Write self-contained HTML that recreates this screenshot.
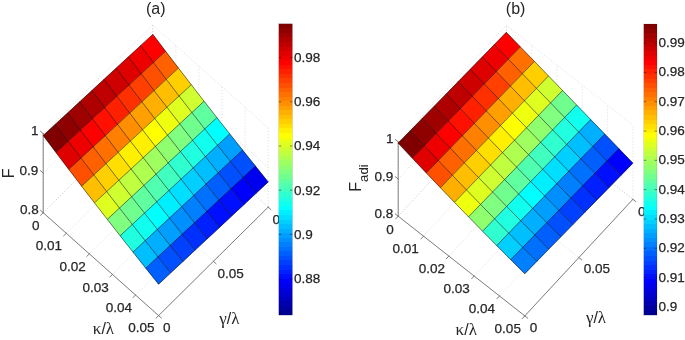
<!DOCTYPE html>
<html><head><meta charset="utf-8"><title>F and F_adi surfaces</title>
<style>html,body{margin:0;padding:0;background:#fff;width:685px;height:340px;overflow:hidden}svg{display:block}</style>
</head><body>
<svg width="685" height="340" viewBox="0 0 685 340">
<rect width="685" height="340" fill="#fff"/>
<g stroke="#cfcfcf" stroke-width="0.8" stroke-dasharray="0.9 2.1" fill="none">
<line x1="43.20" y1="212.70" x2="152.80" y2="104.20"/>
<line x1="152.80" y1="104.20" x2="152.80" y2="25.10"/>
<line x1="66.28" y1="233.28" x2="175.88" y2="124.78"/>
<line x1="175.88" y1="124.78" x2="175.88" y2="45.68"/>
<line x1="89.36" y1="253.86" x2="198.96" y2="145.36"/>
<line x1="198.96" y1="145.36" x2="198.96" y2="66.26"/>
<line x1="112.44" y1="274.44" x2="222.04" y2="165.94"/>
<line x1="222.04" y1="165.94" x2="222.04" y2="86.84"/>
<line x1="135.52" y1="295.02" x2="245.12" y2="186.52"/>
<line x1="245.12" y1="186.52" x2="245.12" y2="107.42"/>
<line x1="158.60" y1="315.60" x2="268.20" y2="207.10"/>
<line x1="268.20" y1="207.10" x2="268.20" y2="128.00"/>
<line x1="43.20" y1="212.70" x2="158.60" y2="315.60"/>
<line x1="43.20" y1="212.70" x2="43.20" y2="133.60"/>
<line x1="98.00" y1="158.45" x2="213.40" y2="261.35"/>
<line x1="98.00" y1="158.45" x2="98.00" y2="79.35"/>
<line x1="152.80" y1="104.20" x2="268.20" y2="207.10"/>
<line x1="152.80" y1="104.20" x2="152.80" y2="25.10"/>
<line x1="43.20" y1="212.70" x2="152.80" y2="104.20"/>
<line x1="152.80" y1="104.20" x2="268.20" y2="207.10"/>
<line x1="43.20" y1="173.15" x2="152.80" y2="64.65"/>
<line x1="152.80" y1="64.65" x2="268.20" y2="167.55"/>
<line x1="43.20" y1="133.60" x2="152.80" y2="25.10"/>
<line x1="152.80" y1="25.10" x2="268.20" y2="128.00"/>
</g>
<g stroke="#707070" stroke-width="0.9" fill="none" stroke-linecap="square">
<line x1="43.20" y1="212.70" x2="158.60" y2="315.60"/>
<line x1="158.60" y1="315.60" x2="268.20" y2="207.10"/>
<line x1="43.20" y1="212.70" x2="43.20" y2="133.60"/>
<line x1="43.20" y1="212.70" x2="40.64" y2="215.23"/>
<line x1="66.28" y1="233.28" x2="63.72" y2="235.81"/>
<line x1="89.36" y1="253.86" x2="86.80" y2="256.39"/>
<line x1="112.44" y1="274.44" x2="109.88" y2="276.97"/>
<line x1="135.52" y1="295.02" x2="132.96" y2="297.55"/>
<line x1="158.60" y1="315.60" x2="156.04" y2="318.13"/>
<line x1="158.60" y1="315.60" x2="161.29" y2="318.00"/>
<line x1="213.40" y1="261.35" x2="216.09" y2="263.75"/>
<line x1="268.20" y1="207.10" x2="270.89" y2="209.50"/>
<line x1="43.20" y1="212.70" x2="40.51" y2="210.30"/>
<line x1="43.20" y1="173.15" x2="40.51" y2="170.75"/>
<line x1="43.20" y1="133.60" x2="40.51" y2="131.20"/>
</g>
<g stroke="none">
<polygon points="140.62,45.63 153.44,62.54 165.62,51.30 152.80,34.39" fill="#ff0000" stroke="#ff0000" stroke-width="0.35"/>
<polygon points="153.44,62.54 166.27,79.34 178.44,68.08 165.62,51.30" fill="#ff6000" stroke="#ff6000" stroke-width="0.35"/>
<polygon points="166.27,79.34 179.09,96.00 191.27,84.73 178.44,68.08" fill="#ffcf00" stroke="#ffcf00" stroke-width="0.35"/>
<polygon points="179.09,96.00 191.91,112.54 204.09,101.25 191.27,84.73" fill="#cfff30" stroke="#cfff30" stroke-width="0.35"/>
<polygon points="191.91,112.54 204.73,128.95 216.91,117.65 204.09,101.25" fill="#60ff9f" stroke="#60ff9f" stroke-width="0.35"/>
<polygon points="204.73,128.95 217.56,145.23 229.73,133.92 216.91,117.65" fill="#00ffff" stroke="#00ffff" stroke-width="0.35"/>
<polygon points="217.56,145.23 230.38,161.39 242.56,150.06 229.73,133.92" fill="#009fff" stroke="#009fff" stroke-width="0.35"/>
<polygon points="230.38,161.39 243.20,177.42 255.38,166.08 242.56,150.06" fill="#0050ff" stroke="#0050ff" stroke-width="0.35"/>
<polygon points="243.20,177.42 256.02,193.32 268.20,181.97 255.38,166.08" fill="#0000ef" stroke="#0000ef" stroke-width="0.35"/>
<polygon points="128.44,56.86 141.27,73.79 153.44,62.54 140.62,45.63" fill="#ef0000" stroke="#ef0000" stroke-width="0.35"/>
<polygon points="141.27,73.79 154.09,90.60 166.27,79.34 153.44,62.54" fill="#ff5000" stroke="#ff5000" stroke-width="0.35"/>
<polygon points="154.09,90.60 166.91,107.27 179.09,96.00 166.27,79.34" fill="#ffbf00" stroke="#ffbf00" stroke-width="0.35"/>
<polygon points="166.91,107.27 179.73,123.83 191.91,112.54 179.09,96.00" fill="#dfff20" stroke="#dfff20" stroke-width="0.35"/>
<polygon points="179.73,123.83 192.56,140.25 204.73,128.95 191.91,112.54" fill="#70ff8f" stroke="#70ff8f" stroke-width="0.35"/>
<polygon points="192.56,140.25 205.38,156.55 217.56,145.23 204.73,128.95" fill="#10ffef" stroke="#10ffef" stroke-width="0.35"/>
<polygon points="205.38,156.55 218.20,172.72 230.38,161.39 217.56,145.23" fill="#00afff" stroke="#00afff" stroke-width="0.35"/>
<polygon points="218.20,172.72 231.02,188.76 243.20,177.42 230.38,161.39" fill="#0050ff" stroke="#0050ff" stroke-width="0.35"/>
<polygon points="231.02,188.76 243.84,204.68 256.02,193.32 243.20,177.42" fill="#0000ff" stroke="#0000ff" stroke-width="0.35"/>
<polygon points="116.27,68.09 129.09,85.04 141.27,73.79 128.44,56.86" fill="#df0000" stroke="#df0000" stroke-width="0.35"/>
<polygon points="129.09,85.04 141.91,101.86 154.09,90.60 141.27,73.79" fill="#ff4000" stroke="#ff4000" stroke-width="0.35"/>
<polygon points="141.91,101.86 154.73,118.55 166.91,107.27 154.09,90.60" fill="#ffaf00" stroke="#ffaf00" stroke-width="0.35"/>
<polygon points="154.73,118.55 167.56,135.11 179.73,123.83 166.91,107.27" fill="#efff10" stroke="#efff10" stroke-width="0.35"/>
<polygon points="167.56,135.11 180.38,151.55 192.56,140.25 179.73,123.83" fill="#80ff80" stroke="#80ff80" stroke-width="0.35"/>
<polygon points="180.38,151.55 193.20,167.86 205.38,156.55 192.56,140.25" fill="#20ffdf" stroke="#20ffdf" stroke-width="0.35"/>
<polygon points="193.20,167.86 206.02,184.05 218.20,172.72 205.38,156.55" fill="#00bfff" stroke="#00bfff" stroke-width="0.35"/>
<polygon points="206.02,184.05 218.84,200.10 231.02,188.76 218.20,172.72" fill="#0060ff" stroke="#0060ff" stroke-width="0.35"/>
<polygon points="218.84,200.10 231.67,216.03 243.84,204.68 231.02,188.76" fill="#0010ff" stroke="#0010ff" stroke-width="0.35"/>
<polygon points="104.09,79.32 116.91,96.28 129.09,85.04 116.27,68.09" fill="#cf0000" stroke="#cf0000" stroke-width="0.35"/>
<polygon points="116.91,96.28 129.73,113.11 141.91,101.86 129.09,85.04" fill="#ff3000" stroke="#ff3000" stroke-width="0.35"/>
<polygon points="129.73,113.11 142.56,129.82 154.73,118.55 141.91,101.86" fill="#ff9f00" stroke="#ff9f00" stroke-width="0.35"/>
<polygon points="142.56,129.82 155.38,146.40 167.56,135.11 154.73,118.55" fill="#ffff00" stroke="#ffff00" stroke-width="0.35"/>
<polygon points="155.38,146.40 168.20,162.85 180.38,151.55 167.56,135.11" fill="#8fff70" stroke="#8fff70" stroke-width="0.35"/>
<polygon points="168.20,162.85 181.02,179.17 193.20,167.86 180.38,151.55" fill="#30ffcf" stroke="#30ffcf" stroke-width="0.35"/>
<polygon points="181.02,179.17 193.84,195.37 206.02,184.05 193.20,167.86" fill="#00cfff" stroke="#00cfff" stroke-width="0.35"/>
<polygon points="193.84,195.37 206.67,211.44 218.84,200.10 206.02,184.05" fill="#0070ff" stroke="#0070ff" stroke-width="0.35"/>
<polygon points="206.67,211.44 219.49,227.39 231.67,216.03 218.84,200.10" fill="#0010ff" stroke="#0010ff" stroke-width="0.35"/>
<polygon points="91.91,90.55 104.73,107.53 116.91,96.28 104.09,79.32" fill="#bf0000" stroke="#bf0000" stroke-width="0.35"/>
<polygon points="104.73,107.53 117.56,124.37 129.73,113.11 116.91,96.28" fill="#ff2000" stroke="#ff2000" stroke-width="0.35"/>
<polygon points="117.56,124.37 130.38,141.09 142.56,129.82 129.73,113.11" fill="#ff8f00" stroke="#ff8f00" stroke-width="0.35"/>
<polygon points="130.38,141.09 143.20,157.68 155.38,146.40 142.56,129.82" fill="#ffef00" stroke="#ffef00" stroke-width="0.35"/>
<polygon points="143.20,157.68 156.02,174.15 168.20,162.85 155.38,146.40" fill="#9fff60" stroke="#9fff60" stroke-width="0.35"/>
<polygon points="156.02,174.15 168.84,190.49 181.02,179.17 168.20,162.85" fill="#40ffbf" stroke="#40ffbf" stroke-width="0.35"/>
<polygon points="168.84,190.49 181.67,206.70 193.84,195.37 181.02,179.17" fill="#00dfff" stroke="#00dfff" stroke-width="0.35"/>
<polygon points="181.67,206.70 194.49,222.78 206.67,211.44 193.84,195.37" fill="#0080ff" stroke="#0080ff" stroke-width="0.35"/>
<polygon points="194.49,222.78 207.31,238.74 219.49,227.39 206.67,211.44" fill="#0020ff" stroke="#0020ff" stroke-width="0.35"/>
<polygon points="79.73,101.79 92.56,118.77 104.73,107.53 91.91,90.55" fill="#af0000" stroke="#af0000" stroke-width="0.35"/>
<polygon points="92.56,118.77 105.38,135.63 117.56,124.37 104.73,107.53" fill="#ff1000" stroke="#ff1000" stroke-width="0.35"/>
<polygon points="105.38,135.63 118.20,152.37 130.38,141.09 117.56,124.37" fill="#ff8000" stroke="#ff8000" stroke-width="0.35"/>
<polygon points="118.20,152.37 131.02,168.97 143.20,157.68 130.38,141.09" fill="#ffef00" stroke="#ffef00" stroke-width="0.35"/>
<polygon points="131.02,168.97 143.84,185.45 156.02,174.15 143.20,157.68" fill="#afff50" stroke="#afff50" stroke-width="0.35"/>
<polygon points="143.84,185.45 156.67,201.80 168.84,190.49 156.02,174.15" fill="#50ffaf" stroke="#50ffaf" stroke-width="0.35"/>
<polygon points="156.67,201.80 169.49,218.03 181.67,206.70 168.84,190.49" fill="#00efff" stroke="#00efff" stroke-width="0.35"/>
<polygon points="169.49,218.03 182.31,234.12 194.49,222.78 181.67,206.70" fill="#008fff" stroke="#008fff" stroke-width="0.35"/>
<polygon points="182.31,234.12 195.13,250.10 207.31,238.74 194.49,222.78" fill="#0030ff" stroke="#0030ff" stroke-width="0.35"/>
<polygon points="67.56,113.02 80.38,130.02 92.56,118.77 79.73,101.79" fill="#9f0000" stroke="#9f0000" stroke-width="0.35"/>
<polygon points="80.38,130.02 93.20,146.89 105.38,135.63 92.56,118.77" fill="#ff0000" stroke="#ff0000" stroke-width="0.35"/>
<polygon points="93.20,146.89 106.02,163.64 118.20,152.37 105.38,135.63" fill="#ff7000" stroke="#ff7000" stroke-width="0.35"/>
<polygon points="106.02,163.64 118.84,180.26 131.02,168.97 118.20,152.37" fill="#ffdf00" stroke="#ffdf00" stroke-width="0.35"/>
<polygon points="118.84,180.26 131.67,196.75 143.84,185.45 131.02,168.97" fill="#bfff40" stroke="#bfff40" stroke-width="0.35"/>
<polygon points="131.67,196.75 144.49,213.11 156.67,201.80 143.84,185.45" fill="#60ff9f" stroke="#60ff9f" stroke-width="0.35"/>
<polygon points="144.49,213.11 157.31,229.35 169.49,218.03 156.67,201.80" fill="#00ffff" stroke="#00ffff" stroke-width="0.35"/>
<polygon points="157.31,229.35 170.13,245.46 182.31,234.12 169.49,218.03" fill="#009fff" stroke="#009fff" stroke-width="0.35"/>
<polygon points="170.13,245.46 182.96,261.45 195.13,250.10 182.31,234.12" fill="#0040ff" stroke="#0040ff" stroke-width="0.35"/>
<polygon points="55.38,124.25 68.20,141.26 80.38,130.02 67.56,113.02" fill="#8f0000" stroke="#8f0000" stroke-width="0.35"/>
<polygon points="68.20,141.26 81.02,158.15 93.20,146.89 80.38,130.02" fill="#ef0000" stroke="#ef0000" stroke-width="0.35"/>
<polygon points="81.02,158.15 93.84,174.91 106.02,163.64 93.20,146.89" fill="#ff6000" stroke="#ff6000" stroke-width="0.35"/>
<polygon points="93.84,174.91 106.67,191.54 118.84,180.26 106.02,163.64" fill="#ffcf00" stroke="#ffcf00" stroke-width="0.35"/>
<polygon points="106.67,191.54 119.49,208.05 131.67,196.75 118.84,180.26" fill="#cfff30" stroke="#cfff30" stroke-width="0.35"/>
<polygon points="119.49,208.05 132.31,224.43 144.49,213.11 131.67,196.75" fill="#70ff8f" stroke="#70ff8f" stroke-width="0.35"/>
<polygon points="132.31,224.43 145.13,240.68 157.31,229.35 144.49,213.11" fill="#10ffef" stroke="#10ffef" stroke-width="0.35"/>
<polygon points="145.13,240.68 157.96,256.81 170.13,245.46 157.31,229.35" fill="#00afff" stroke="#00afff" stroke-width="0.35"/>
<polygon points="157.96,256.81 170.78,272.80 182.96,261.45 170.13,245.46" fill="#0050ff" stroke="#0050ff" stroke-width="0.35"/>
<polygon points="43.20,135.48 56.02,152.51 68.20,141.26 55.38,124.25" fill="#800000" stroke="#800000" stroke-width="0.35"/>
<polygon points="56.02,152.51 68.84,169.41 81.02,158.15 68.20,141.26" fill="#df0000" stroke="#df0000" stroke-width="0.35"/>
<polygon points="68.84,169.41 81.67,186.18 93.84,174.91 81.02,158.15" fill="#ff5000" stroke="#ff5000" stroke-width="0.35"/>
<polygon points="81.67,186.18 94.49,202.83 106.67,191.54 93.84,174.91" fill="#ffbf00" stroke="#ffbf00" stroke-width="0.35"/>
<polygon points="94.49,202.83 107.31,219.35 119.49,208.05 106.67,191.54" fill="#dfff20" stroke="#dfff20" stroke-width="0.35"/>
<polygon points="107.31,219.35 120.13,235.74 132.31,224.43 119.49,208.05" fill="#80ff80" stroke="#80ff80" stroke-width="0.35"/>
<polygon points="120.13,235.74 132.96,252.01 145.13,240.68 132.31,224.43" fill="#20ffdf" stroke="#20ffdf" stroke-width="0.35"/>
<polygon points="132.96,252.01 145.78,268.15 157.96,256.81 145.13,240.68" fill="#00bfff" stroke="#00bfff" stroke-width="0.35"/>
<polygon points="145.78,268.15 158.60,284.16 170.78,272.80 157.96,256.81" fill="#0060ff" stroke="#0060ff" stroke-width="0.35"/>
</g>
<g stroke="#000" stroke-width="0.85" stroke-opacity="0.6" fill="none" stroke-linejoin="round">
<polyline points="43.20,135.48 55.38,124.25 67.56,113.02 79.73,101.79 91.91,90.55 104.09,79.32 116.27,68.09 128.44,56.86 140.62,45.63 152.80,34.39"/>
<polyline points="56.02,152.51 68.20,141.26 80.38,130.02 92.56,118.77 104.73,107.53 116.91,96.28 129.09,85.04 141.27,73.79 153.44,62.54 165.62,51.30"/>
<polyline points="68.84,169.41 81.02,158.15 93.20,146.89 105.38,135.63 117.56,124.37 129.73,113.11 141.91,101.86 154.09,90.60 166.27,79.34 178.44,68.08"/>
<polyline points="81.67,186.18 93.84,174.91 106.02,163.64 118.20,152.37 130.38,141.09 142.56,129.82 154.73,118.55 166.91,107.27 179.09,96.00 191.27,84.73"/>
<polyline points="94.49,202.83 106.67,191.54 118.84,180.26 131.02,168.97 143.20,157.68 155.38,146.40 167.56,135.11 179.73,123.83 191.91,112.54 204.09,101.25"/>
<polyline points="107.31,219.35 119.49,208.05 131.67,196.75 143.84,185.45 156.02,174.15 168.20,162.85 180.38,151.55 192.56,140.25 204.73,128.95 216.91,117.65"/>
<polyline points="120.13,235.74 132.31,224.43 144.49,213.11 156.67,201.80 168.84,190.49 181.02,179.17 193.20,167.86 205.38,156.55 217.56,145.23 229.73,133.92"/>
<polyline points="132.96,252.01 145.13,240.68 157.31,229.35 169.49,218.03 181.67,206.70 193.84,195.37 206.02,184.05 218.20,172.72 230.38,161.39 242.56,150.06"/>
<polyline points="145.78,268.15 157.96,256.81 170.13,245.46 182.31,234.12 194.49,222.78 206.67,211.44 218.84,200.10 231.02,188.76 243.20,177.42 255.38,166.08"/>
<polyline points="158.60,284.16 170.78,272.80 182.96,261.45 195.13,250.10 207.31,238.74 219.49,227.39 231.67,216.03 243.84,204.68 256.02,193.32 268.20,181.97"/>
<polyline points="43.20,135.48 56.02,152.51 68.84,169.41 81.67,186.18 94.49,202.83 107.31,219.35 120.13,235.74 132.96,252.01 145.78,268.15 158.60,284.16"/>
<polyline points="55.38,124.25 68.20,141.26 81.02,158.15 93.84,174.91 106.67,191.54 119.49,208.05 132.31,224.43 145.13,240.68 157.96,256.81 170.78,272.80"/>
<polyline points="67.56,113.02 80.38,130.02 93.20,146.89 106.02,163.64 118.84,180.26 131.67,196.75 144.49,213.11 157.31,229.35 170.13,245.46 182.96,261.45"/>
<polyline points="79.73,101.79 92.56,118.77 105.38,135.63 118.20,152.37 131.02,168.97 143.84,185.45 156.67,201.80 169.49,218.03 182.31,234.12 195.13,250.10"/>
<polyline points="91.91,90.55 104.73,107.53 117.56,124.37 130.38,141.09 143.20,157.68 156.02,174.15 168.84,190.49 181.67,206.70 194.49,222.78 207.31,238.74"/>
<polyline points="104.09,79.32 116.91,96.28 129.73,113.11 142.56,129.82 155.38,146.40 168.20,162.85 181.02,179.17 193.84,195.37 206.67,211.44 219.49,227.39"/>
<polyline points="116.27,68.09 129.09,85.04 141.91,101.86 154.73,118.55 167.56,135.11 180.38,151.55 193.20,167.86 206.02,184.05 218.84,200.10 231.67,216.03"/>
<polyline points="128.44,56.86 141.27,73.79 154.09,90.60 166.91,107.27 179.73,123.83 192.56,140.25 205.38,156.55 218.20,172.72 231.02,188.76 243.84,204.68"/>
<polyline points="140.62,45.63 153.44,62.54 166.27,79.34 179.09,96.00 191.91,112.54 204.73,128.95 217.56,145.23 230.38,161.39 243.20,177.42 256.02,193.32"/>
<polyline points="152.80,34.39 165.62,51.30 178.44,68.08 191.27,84.73 204.09,101.25 216.91,117.65 229.73,133.92 242.56,150.06 255.38,166.08 268.20,181.97"/>
</g>
<g font-family="'Liberation Sans', Arial, sans-serif" font-size="13.5" fill="#262626" stroke="#262626" stroke-width="0.25">
<text x="39.60" y="229.60" text-anchor="end">0</text>
<text x="62.08" y="249.58" text-anchor="end">0.01</text>
<text x="85.76" y="270.76" text-anchor="end">0.02</text>
<text x="108.84" y="292.04" text-anchor="end">0.03</text>
<text x="131.92" y="311.92" text-anchor="end">0.04</text>
<text x="154.50" y="331.90" text-anchor="end">0.05</text>
<text x="162.90" y="332.10">0</text>
<text x="217.50" y="277.85">0.05</text>
<text x="272.40" y="223.60">0.1</text>
<text x="38.90" y="214.20" text-anchor="end">0.8</text>
<text x="38.40" y="175.35" text-anchor="end">0.9</text>
<text x="38.40" y="134.50" text-anchor="end">1</text>
</g>
<defs><linearGradient id="ga" x1="0" y1="0" x2="0" y2="1"><stop offset="0.00000" stop-color="#800000"/><stop offset="0.01562" stop-color="#800000"/><stop offset="0.01562" stop-color="#8f0000"/><stop offset="0.03125" stop-color="#8f0000"/><stop offset="0.03125" stop-color="#9f0000"/><stop offset="0.04688" stop-color="#9f0000"/><stop offset="0.04688" stop-color="#af0000"/><stop offset="0.06250" stop-color="#af0000"/><stop offset="0.06250" stop-color="#bf0000"/><stop offset="0.07812" stop-color="#bf0000"/><stop offset="0.07812" stop-color="#cf0000"/><stop offset="0.09375" stop-color="#cf0000"/><stop offset="0.09375" stop-color="#df0000"/><stop offset="0.10938" stop-color="#df0000"/><stop offset="0.10938" stop-color="#ef0000"/><stop offset="0.12500" stop-color="#ef0000"/><stop offset="0.12500" stop-color="#ff0000"/><stop offset="0.14062" stop-color="#ff0000"/><stop offset="0.14062" stop-color="#ff1000"/><stop offset="0.15625" stop-color="#ff1000"/><stop offset="0.15625" stop-color="#ff2000"/><stop offset="0.17188" stop-color="#ff2000"/><stop offset="0.17188" stop-color="#ff3000"/><stop offset="0.18750" stop-color="#ff3000"/><stop offset="0.18750" stop-color="#ff4000"/><stop offset="0.20312" stop-color="#ff4000"/><stop offset="0.20312" stop-color="#ff5000"/><stop offset="0.21875" stop-color="#ff5000"/><stop offset="0.21875" stop-color="#ff6000"/><stop offset="0.23438" stop-color="#ff6000"/><stop offset="0.23438" stop-color="#ff7000"/><stop offset="0.25000" stop-color="#ff7000"/><stop offset="0.25000" stop-color="#ff8000"/><stop offset="0.26562" stop-color="#ff8000"/><stop offset="0.26562" stop-color="#ff8f00"/><stop offset="0.28125" stop-color="#ff8f00"/><stop offset="0.28125" stop-color="#ff9f00"/><stop offset="0.29688" stop-color="#ff9f00"/><stop offset="0.29688" stop-color="#ffaf00"/><stop offset="0.31250" stop-color="#ffaf00"/><stop offset="0.31250" stop-color="#ffbf00"/><stop offset="0.32812" stop-color="#ffbf00"/><stop offset="0.32812" stop-color="#ffcf00"/><stop offset="0.34375" stop-color="#ffcf00"/><stop offset="0.34375" stop-color="#ffdf00"/><stop offset="0.35938" stop-color="#ffdf00"/><stop offset="0.35938" stop-color="#ffef00"/><stop offset="0.37500" stop-color="#ffef00"/><stop offset="0.37500" stop-color="#ffff00"/><stop offset="0.39062" stop-color="#ffff00"/><stop offset="0.39062" stop-color="#efff10"/><stop offset="0.40625" stop-color="#efff10"/><stop offset="0.40625" stop-color="#dfff20"/><stop offset="0.42188" stop-color="#dfff20"/><stop offset="0.42188" stop-color="#cfff30"/><stop offset="0.43750" stop-color="#cfff30"/><stop offset="0.43750" stop-color="#bfff40"/><stop offset="0.45312" stop-color="#bfff40"/><stop offset="0.45312" stop-color="#afff50"/><stop offset="0.46875" stop-color="#afff50"/><stop offset="0.46875" stop-color="#9fff60"/><stop offset="0.48438" stop-color="#9fff60"/><stop offset="0.48438" stop-color="#8fff70"/><stop offset="0.50000" stop-color="#8fff70"/><stop offset="0.50000" stop-color="#80ff80"/><stop offset="0.51562" stop-color="#80ff80"/><stop offset="0.51562" stop-color="#70ff8f"/><stop offset="0.53125" stop-color="#70ff8f"/><stop offset="0.53125" stop-color="#60ff9f"/><stop offset="0.54688" stop-color="#60ff9f"/><stop offset="0.54688" stop-color="#50ffaf"/><stop offset="0.56250" stop-color="#50ffaf"/><stop offset="0.56250" stop-color="#40ffbf"/><stop offset="0.57812" stop-color="#40ffbf"/><stop offset="0.57812" stop-color="#30ffcf"/><stop offset="0.59375" stop-color="#30ffcf"/><stop offset="0.59375" stop-color="#20ffdf"/><stop offset="0.60938" stop-color="#20ffdf"/><stop offset="0.60938" stop-color="#10ffef"/><stop offset="0.62500" stop-color="#10ffef"/><stop offset="0.62500" stop-color="#00ffff"/><stop offset="0.64062" stop-color="#00ffff"/><stop offset="0.64062" stop-color="#00efff"/><stop offset="0.65625" stop-color="#00efff"/><stop offset="0.65625" stop-color="#00dfff"/><stop offset="0.67188" stop-color="#00dfff"/><stop offset="0.67188" stop-color="#00cfff"/><stop offset="0.68750" stop-color="#00cfff"/><stop offset="0.68750" stop-color="#00bfff"/><stop offset="0.70312" stop-color="#00bfff"/><stop offset="0.70312" stop-color="#00afff"/><stop offset="0.71875" stop-color="#00afff"/><stop offset="0.71875" stop-color="#009fff"/><stop offset="0.73438" stop-color="#009fff"/><stop offset="0.73438" stop-color="#008fff"/><stop offset="0.75000" stop-color="#008fff"/><stop offset="0.75000" stop-color="#0080ff"/><stop offset="0.76562" stop-color="#0080ff"/><stop offset="0.76562" stop-color="#0070ff"/><stop offset="0.78125" stop-color="#0070ff"/><stop offset="0.78125" stop-color="#0060ff"/><stop offset="0.79688" stop-color="#0060ff"/><stop offset="0.79688" stop-color="#0050ff"/><stop offset="0.81250" stop-color="#0050ff"/><stop offset="0.81250" stop-color="#0040ff"/><stop offset="0.82812" stop-color="#0040ff"/><stop offset="0.82812" stop-color="#0030ff"/><stop offset="0.84375" stop-color="#0030ff"/><stop offset="0.84375" stop-color="#0020ff"/><stop offset="0.85938" stop-color="#0020ff"/><stop offset="0.85938" stop-color="#0010ff"/><stop offset="0.87500" stop-color="#0010ff"/><stop offset="0.87500" stop-color="#0000ff"/><stop offset="0.89062" stop-color="#0000ff"/><stop offset="0.89062" stop-color="#0000ef"/><stop offset="0.90625" stop-color="#0000ef"/><stop offset="0.90625" stop-color="#0000df"/><stop offset="0.92188" stop-color="#0000df"/><stop offset="0.92188" stop-color="#0000cf"/><stop offset="0.93750" stop-color="#0000cf"/><stop offset="0.93750" stop-color="#0000bf"/><stop offset="0.95312" stop-color="#0000bf"/><stop offset="0.95312" stop-color="#0000af"/><stop offset="0.96875" stop-color="#0000af"/><stop offset="0.96875" stop-color="#00009f"/><stop offset="0.98438" stop-color="#00009f"/><stop offset="0.98438" stop-color="#00008f"/><stop offset="1.00000" stop-color="#00008f"/></linearGradient></defs>
<rect x="278.80" y="23.80" width="13.60" height="291.30" fill="url(#ga)"/>
<rect x="278.80" y="23.80" width="13.60" height="291.30" fill="none" stroke="#000" stroke-width="0.4" stroke-opacity="0.25"/>
<g font-family="'Liberation Sans', Arial, sans-serif" font-size="13.5" fill="#262626" stroke="#262626" stroke-width="0.25">
<text x="294.00" y="283.19">0.88</text>
<text x="294.00" y="238.96">0.9</text>
<text x="294.00" y="194.72">0.92</text>
<text x="294.00" y="150.48">0.94</text>
<text x="294.00" y="106.25">0.96</text>
<text x="294.00" y="62.01">0.98</text>
</g>
<g stroke="#111" stroke-width="0.6" stroke-opacity="0.8">
<line x1="278.80" y1="278.69" x2="281.20" y2="278.69"/>
<line x1="290.00" y1="278.69" x2="292.40" y2="278.69"/>
<line x1="278.80" y1="234.46" x2="281.20" y2="234.46"/>
<line x1="290.00" y1="234.46" x2="292.40" y2="234.46"/>
<line x1="278.80" y1="190.22" x2="281.20" y2="190.22"/>
<line x1="290.00" y1="190.22" x2="292.40" y2="190.22"/>
<line x1="278.80" y1="145.98" x2="281.20" y2="145.98"/>
<line x1="290.00" y1="145.98" x2="292.40" y2="145.98"/>
<line x1="278.80" y1="101.75" x2="281.20" y2="101.75"/>
<line x1="290.00" y1="101.75" x2="292.40" y2="101.75"/>
<line x1="278.80" y1="57.51" x2="281.20" y2="57.51"/>
<line x1="290.00" y1="57.51" x2="292.40" y2="57.51"/>
</g>
<g stroke="#cfcfcf" stroke-width="0.8" stroke-dasharray="0.9 2.1" fill="none">
<line x1="398.20" y1="216.20" x2="506.30" y2="99.60"/>
<line x1="506.30" y1="99.60" x2="506.30" y2="25.20"/>
<line x1="423.52" y1="236.14" x2="531.62" y2="119.54"/>
<line x1="531.62" y1="119.54" x2="531.62" y2="45.14"/>
<line x1="448.84" y1="256.08" x2="556.94" y2="139.48"/>
<line x1="556.94" y1="139.48" x2="556.94" y2="65.08"/>
<line x1="474.16" y1="276.02" x2="582.26" y2="159.42"/>
<line x1="582.26" y1="159.42" x2="582.26" y2="85.02"/>
<line x1="499.48" y1="295.96" x2="607.58" y2="179.36"/>
<line x1="607.58" y1="179.36" x2="607.58" y2="104.96"/>
<line x1="524.80" y1="315.90" x2="632.90" y2="199.30"/>
<line x1="632.90" y1="199.30" x2="632.90" y2="124.90"/>
<line x1="398.20" y1="216.20" x2="524.80" y2="315.90"/>
<line x1="398.20" y1="216.20" x2="398.20" y2="141.80"/>
<line x1="452.25" y1="157.90" x2="578.85" y2="257.60"/>
<line x1="452.25" y1="157.90" x2="452.25" y2="83.50"/>
<line x1="506.30" y1="99.60" x2="632.90" y2="199.30"/>
<line x1="506.30" y1="99.60" x2="506.30" y2="25.20"/>
<line x1="398.20" y1="216.20" x2="506.30" y2="99.60"/>
<line x1="506.30" y1="99.60" x2="632.90" y2="199.30"/>
<line x1="398.20" y1="179.00" x2="506.30" y2="62.40"/>
<line x1="506.30" y1="62.40" x2="632.90" y2="162.10"/>
<line x1="398.20" y1="141.80" x2="506.30" y2="25.20"/>
<line x1="506.30" y1="25.20" x2="632.90" y2="124.90"/>
</g>
<g stroke="#707070" stroke-width="0.9" fill="none" stroke-linecap="square">
<line x1="398.20" y1="216.20" x2="524.80" y2="315.90"/>
<line x1="524.80" y1="315.90" x2="632.90" y2="199.30"/>
<line x1="398.20" y1="216.20" x2="398.20" y2="141.80"/>
<line x1="398.20" y1="216.20" x2="395.75" y2="218.84"/>
<line x1="423.52" y1="236.14" x2="421.07" y2="238.78"/>
<line x1="448.84" y1="256.08" x2="446.39" y2="258.72"/>
<line x1="474.16" y1="276.02" x2="471.71" y2="278.66"/>
<line x1="499.48" y1="295.96" x2="497.03" y2="298.60"/>
<line x1="524.80" y1="315.90" x2="522.35" y2="318.54"/>
<line x1="524.80" y1="315.90" x2="527.63" y2="318.13"/>
<line x1="578.85" y1="257.60" x2="581.68" y2="259.83"/>
<line x1="632.90" y1="199.30" x2="635.73" y2="201.53"/>
<line x1="398.20" y1="216.20" x2="395.37" y2="213.97"/>
<line x1="398.20" y1="179.00" x2="395.37" y2="176.77"/>
<line x1="398.20" y1="141.80" x2="395.37" y2="139.57"/>
</g>
<g stroke="none">
<polygon points="494.29,44.65 508.36,59.23 520.37,46.88 506.30,32.34" fill="#ff0000" stroke="#ff0000" stroke-width="0.35"/>
<polygon points="508.36,59.23 522.42,73.80 534.43,61.41 520.37,46.88" fill="#ff7000" stroke="#ff7000" stroke-width="0.35"/>
<polygon points="522.42,73.80 536.49,88.36 548.50,75.94 534.43,61.41" fill="#ffcf00" stroke="#ffcf00" stroke-width="0.35"/>
<polygon points="536.49,88.36 550.56,102.90 562.57,90.48 548.50,75.94" fill="#cfff30" stroke="#cfff30" stroke-width="0.35"/>
<polygon points="550.56,102.90 564.62,117.43 576.63,105.01 562.57,90.48" fill="#70ff8f" stroke="#70ff8f" stroke-width="0.35"/>
<polygon points="564.62,117.43 578.69,131.95 590.70,119.54 576.63,105.01" fill="#10ffef" stroke="#10ffef" stroke-width="0.35"/>
<polygon points="578.69,131.95 592.76,146.46 604.77,134.08 590.70,119.54" fill="#00afff" stroke="#00afff" stroke-width="0.35"/>
<polygon points="592.76,146.46 606.82,160.95 618.83,148.61 604.77,134.08" fill="#0050ff" stroke="#0050ff" stroke-width="0.35"/>
<polygon points="606.82,160.95 620.89,175.42 632.90,163.14 618.83,148.61" fill="#0000ff" stroke="#0000ff" stroke-width="0.35"/>
<polygon points="482.28,56.96 496.34,71.59 508.36,59.23 494.29,44.65" fill="#ef0000" stroke="#ef0000" stroke-width="0.35"/>
<polygon points="496.34,71.59 510.41,86.20 522.42,73.80 508.36,59.23" fill="#ff6000" stroke="#ff6000" stroke-width="0.35"/>
<polygon points="510.41,86.20 524.48,100.78 536.49,88.36 522.42,73.80" fill="#ffbf00" stroke="#ffbf00" stroke-width="0.35"/>
<polygon points="524.48,100.78 538.54,115.33 550.56,102.90 536.49,88.36" fill="#dfff20" stroke="#dfff20" stroke-width="0.35"/>
<polygon points="538.54,115.33 552.61,129.86 564.62,117.43 550.56,102.90" fill="#80ff80" stroke="#80ff80" stroke-width="0.35"/>
<polygon points="552.61,129.86 566.68,144.36 578.69,131.95 564.62,117.43" fill="#20ffdf" stroke="#20ffdf" stroke-width="0.35"/>
<polygon points="566.68,144.36 580.74,158.84 592.76,146.46 578.69,131.95" fill="#00bfff" stroke="#00bfff" stroke-width="0.35"/>
<polygon points="580.74,158.84 594.81,173.28 606.82,160.95 592.76,146.46" fill="#0060ff" stroke="#0060ff" stroke-width="0.35"/>
<polygon points="594.81,173.28 608.88,187.71 620.89,175.42 606.82,160.95" fill="#0010ff" stroke="#0010ff" stroke-width="0.35"/>
<polygon points="470.27,69.26 484.33,83.95 496.34,71.59 482.28,56.96" fill="#df0000" stroke="#df0000" stroke-width="0.35"/>
<polygon points="484.33,83.95 498.40,98.59 510.41,86.20 496.34,71.59" fill="#ff4000" stroke="#ff4000" stroke-width="0.35"/>
<polygon points="498.40,98.59 512.47,113.20 524.48,100.78 510.41,86.20" fill="#ffaf00" stroke="#ffaf00" stroke-width="0.35"/>
<polygon points="512.47,113.20 526.53,127.76 538.54,115.33 524.48,100.78" fill="#efff10" stroke="#efff10" stroke-width="0.35"/>
<polygon points="526.53,127.76 540.60,142.29 552.61,129.86 538.54,115.33" fill="#8fff70" stroke="#8fff70" stroke-width="0.35"/>
<polygon points="540.60,142.29 554.67,156.77 566.68,144.36 552.61,129.86" fill="#30ffcf" stroke="#30ffcf" stroke-width="0.35"/>
<polygon points="554.67,156.77 568.73,171.22 580.74,158.84 566.68,144.36" fill="#00cfff" stroke="#00cfff" stroke-width="0.35"/>
<polygon points="568.73,171.22 582.80,185.62 594.81,173.28 580.74,158.84" fill="#0070ff" stroke="#0070ff" stroke-width="0.35"/>
<polygon points="582.80,185.62 596.87,199.99 608.88,187.71 594.81,173.28" fill="#0020ff" stroke="#0020ff" stroke-width="0.35"/>
<polygon points="458.26,81.57 472.32,96.30 484.33,83.95 470.27,69.26" fill="#cf0000" stroke="#cf0000" stroke-width="0.35"/>
<polygon points="472.32,96.30 486.39,110.98 498.40,98.59 484.33,83.95" fill="#ff3000" stroke="#ff3000" stroke-width="0.35"/>
<polygon points="486.39,110.98 500.46,125.61 512.47,113.20 498.40,98.59" fill="#ff9f00" stroke="#ff9f00" stroke-width="0.35"/>
<polygon points="500.46,125.61 514.52,140.19 526.53,127.76 512.47,113.20" fill="#ffff00" stroke="#ffff00" stroke-width="0.35"/>
<polygon points="514.52,140.19 528.59,154.71 540.60,142.29 526.53,127.76" fill="#9fff60" stroke="#9fff60" stroke-width="0.35"/>
<polygon points="528.59,154.71 542.66,169.18 554.67,156.77 540.60,142.29" fill="#40ffbf" stroke="#40ffbf" stroke-width="0.35"/>
<polygon points="542.66,169.18 556.72,183.60 568.73,171.22 554.67,156.77" fill="#00dfff" stroke="#00dfff" stroke-width="0.35"/>
<polygon points="556.72,183.60 570.79,197.96 582.80,185.62 568.73,171.22" fill="#0080ff" stroke="#0080ff" stroke-width="0.35"/>
<polygon points="570.79,197.96 584.86,212.27 596.87,199.99 582.80,185.62" fill="#0030ff" stroke="#0030ff" stroke-width="0.35"/>
<polygon points="446.24,93.88 460.31,108.66 472.32,96.30 458.26,81.57" fill="#bf0000" stroke="#bf0000" stroke-width="0.35"/>
<polygon points="460.31,108.66 474.38,123.38 486.39,110.98 472.32,96.30" fill="#ff2000" stroke="#ff2000" stroke-width="0.35"/>
<polygon points="474.38,123.38 488.44,138.03 500.46,125.61 486.39,110.98" fill="#ff8f00" stroke="#ff8f00" stroke-width="0.35"/>
<polygon points="488.44,138.03 502.51,152.62 514.52,140.19 500.46,125.61" fill="#ffef00" stroke="#ffef00" stroke-width="0.35"/>
<polygon points="502.51,152.62 516.58,167.14 528.59,154.71 514.52,140.19" fill="#afff50" stroke="#afff50" stroke-width="0.35"/>
<polygon points="516.58,167.14 530.64,181.59 542.66,169.18 528.59,154.71" fill="#50ffaf" stroke="#50ffaf" stroke-width="0.35"/>
<polygon points="530.64,181.59 544.71,195.98 556.72,183.60 542.66,169.18" fill="#00efff" stroke="#00efff" stroke-width="0.35"/>
<polygon points="544.71,195.98 558.78,210.30 570.79,197.96 556.72,183.60" fill="#008fff" stroke="#008fff" stroke-width="0.35"/>
<polygon points="558.78,210.30 572.84,224.55 584.86,212.27 570.79,197.96" fill="#0040ff" stroke="#0040ff" stroke-width="0.35"/>
<polygon points="434.23,106.18 448.30,121.02 460.31,108.66 446.24,93.88" fill="#af0000" stroke="#af0000" stroke-width="0.35"/>
<polygon points="448.30,121.02 462.37,135.77 474.38,123.38 460.31,108.66" fill="#ff1000" stroke="#ff1000" stroke-width="0.35"/>
<polygon points="462.37,135.77 476.43,150.45 488.44,138.03 474.38,123.38" fill="#ff8000" stroke="#ff8000" stroke-width="0.35"/>
<polygon points="476.43,150.45 490.50,165.05 502.51,152.62 488.44,138.03" fill="#ffdf00" stroke="#ffdf00" stroke-width="0.35"/>
<polygon points="490.50,165.05 504.57,179.56 516.58,167.14 502.51,152.62" fill="#bfff40" stroke="#bfff40" stroke-width="0.35"/>
<polygon points="504.57,179.56 518.63,194.00 530.64,181.59 516.58,167.14" fill="#60ff9f" stroke="#60ff9f" stroke-width="0.35"/>
<polygon points="518.63,194.00 532.70,208.36 544.71,195.98 530.64,181.59" fill="#00ffff" stroke="#00ffff" stroke-width="0.35"/>
<polygon points="532.70,208.36 546.77,222.63 558.78,210.30 544.71,195.98" fill="#009fff" stroke="#009fff" stroke-width="0.35"/>
<polygon points="546.77,222.63 560.83,236.83 572.84,224.55 558.78,210.30" fill="#0050ff" stroke="#0050ff" stroke-width="0.35"/>
<polygon points="422.22,118.49 436.29,133.37 448.30,121.02 434.23,106.18" fill="#9f0000" stroke="#9f0000" stroke-width="0.35"/>
<polygon points="436.29,133.37 450.36,148.17 462.37,135.77 448.30,121.02" fill="#ff0000" stroke="#ff0000" stroke-width="0.35"/>
<polygon points="450.36,148.17 464.42,162.87 476.43,150.45 462.37,135.77" fill="#ff7000" stroke="#ff7000" stroke-width="0.35"/>
<polygon points="464.42,162.87 478.49,177.47 490.50,165.05 476.43,150.45" fill="#ffcf00" stroke="#ffcf00" stroke-width="0.35"/>
<polygon points="478.49,177.47 492.56,191.99 504.57,179.56 490.50,165.05" fill="#cfff30" stroke="#cfff30" stroke-width="0.35"/>
<polygon points="492.56,191.99 506.62,206.41 518.63,194.00 504.57,179.56" fill="#70ff8f" stroke="#70ff8f" stroke-width="0.35"/>
<polygon points="506.62,206.41 520.69,220.74 532.70,208.36 518.63,194.00" fill="#10ffef" stroke="#10ffef" stroke-width="0.35"/>
<polygon points="520.69,220.74 534.76,234.97 546.77,222.63 532.70,208.36" fill="#00afff" stroke="#00afff" stroke-width="0.35"/>
<polygon points="534.76,234.97 548.82,249.11 560.83,236.83 546.77,222.63" fill="#0060ff" stroke="#0060ff" stroke-width="0.35"/>
<polygon points="410.21,130.80 424.28,145.73 436.29,133.37 422.22,118.49" fill="#8f0000" stroke="#8f0000" stroke-width="0.35"/>
<polygon points="424.28,145.73 438.34,160.56 450.36,148.17 436.29,133.37" fill="#ef0000" stroke="#ef0000" stroke-width="0.35"/>
<polygon points="438.34,160.56 452.41,175.28 464.42,162.87 450.36,148.17" fill="#ff6000" stroke="#ff6000" stroke-width="0.35"/>
<polygon points="452.41,175.28 466.48,189.90 478.49,177.47 464.42,162.87" fill="#ffbf00" stroke="#ffbf00" stroke-width="0.35"/>
<polygon points="466.48,189.90 480.54,204.41 492.56,191.99 478.49,177.47" fill="#dfff20" stroke="#dfff20" stroke-width="0.35"/>
<polygon points="480.54,204.41 494.61,218.82 506.62,206.41 492.56,191.99" fill="#80ff80" stroke="#80ff80" stroke-width="0.35"/>
<polygon points="494.61,218.82 508.68,233.12 520.69,220.74 506.62,206.41" fill="#20ffdf" stroke="#20ffdf" stroke-width="0.35"/>
<polygon points="508.68,233.12 522.74,247.31 534.76,234.97 520.69,220.74" fill="#00bfff" stroke="#00bfff" stroke-width="0.35"/>
<polygon points="522.74,247.31 536.81,261.40 548.82,249.11 534.76,234.97" fill="#0070ff" stroke="#0070ff" stroke-width="0.35"/>
<polygon points="398.20,143.10 412.27,158.09 424.28,145.73 410.21,130.80" fill="#800000" stroke="#800000" stroke-width="0.35"/>
<polygon points="412.27,158.09 426.33,172.95 438.34,160.56 424.28,145.73" fill="#df0000" stroke="#df0000" stroke-width="0.35"/>
<polygon points="426.33,172.95 440.40,187.70 452.41,175.28 438.34,160.56" fill="#ff5000" stroke="#ff5000" stroke-width="0.35"/>
<polygon points="440.40,187.70 454.47,202.33 466.48,189.90 452.41,175.28" fill="#ffaf00" stroke="#ffaf00" stroke-width="0.35"/>
<polygon points="454.47,202.33 468.53,216.84 480.54,204.41 466.48,189.90" fill="#efff10" stroke="#efff10" stroke-width="0.35"/>
<polygon points="468.53,216.84 482.60,231.23 494.61,218.82 480.54,204.41" fill="#8fff70" stroke="#8fff70" stroke-width="0.35"/>
<polygon points="482.60,231.23 496.67,245.50 508.68,233.12 494.61,218.82" fill="#30ffcf" stroke="#30ffcf" stroke-width="0.35"/>
<polygon points="496.67,245.50 510.73,259.65 522.74,247.31 508.68,233.12" fill="#00cfff" stroke="#00cfff" stroke-width="0.35"/>
<polygon points="510.73,259.65 524.80,273.68 536.81,261.40 522.74,247.31" fill="#0080ff" stroke="#0080ff" stroke-width="0.35"/>
</g>
<g stroke="#000" stroke-width="0.85" stroke-opacity="0.6" fill="none" stroke-linejoin="round">
<polyline points="398.20,143.10 410.21,130.80 422.22,118.49 434.23,106.18 446.24,93.88 458.26,81.57 470.27,69.26 482.28,56.96 494.29,44.65 506.30,32.34"/>
<polyline points="412.27,158.09 424.28,145.73 436.29,133.37 448.30,121.02 460.31,108.66 472.32,96.30 484.33,83.95 496.34,71.59 508.36,59.23 520.37,46.88"/>
<polyline points="426.33,172.95 438.34,160.56 450.36,148.17 462.37,135.77 474.38,123.38 486.39,110.98 498.40,98.59 510.41,86.20 522.42,73.80 534.43,61.41"/>
<polyline points="440.40,187.70 452.41,175.28 464.42,162.87 476.43,150.45 488.44,138.03 500.46,125.61 512.47,113.20 524.48,100.78 536.49,88.36 548.50,75.94"/>
<polyline points="454.47,202.33 466.48,189.90 478.49,177.47 490.50,165.05 502.51,152.62 514.52,140.19 526.53,127.76 538.54,115.33 550.56,102.90 562.57,90.48"/>
<polyline points="468.53,216.84 480.54,204.41 492.56,191.99 504.57,179.56 516.58,167.14 528.59,154.71 540.60,142.29 552.61,129.86 564.62,117.43 576.63,105.01"/>
<polyline points="482.60,231.23 494.61,218.82 506.62,206.41 518.63,194.00 530.64,181.59 542.66,169.18 554.67,156.77 566.68,144.36 578.69,131.95 590.70,119.54"/>
<polyline points="496.67,245.50 508.68,233.12 520.69,220.74 532.70,208.36 544.71,195.98 556.72,183.60 568.73,171.22 580.74,158.84 592.76,146.46 604.77,134.08"/>
<polyline points="510.73,259.65 522.74,247.31 534.76,234.97 546.77,222.63 558.78,210.30 570.79,197.96 582.80,185.62 594.81,173.28 606.82,160.95 618.83,148.61"/>
<polyline points="524.80,273.68 536.81,261.40 548.82,249.11 560.83,236.83 572.84,224.55 584.86,212.27 596.87,199.99 608.88,187.71 620.89,175.42 632.90,163.14"/>
<polyline points="398.20,143.10 412.27,158.09 426.33,172.95 440.40,187.70 454.47,202.33 468.53,216.84 482.60,231.23 496.67,245.50 510.73,259.65 524.80,273.68"/>
<polyline points="410.21,130.80 424.28,145.73 438.34,160.56 452.41,175.28 466.48,189.90 480.54,204.41 494.61,218.82 508.68,233.12 522.74,247.31 536.81,261.40"/>
<polyline points="422.22,118.49 436.29,133.37 450.36,148.17 464.42,162.87 478.49,177.47 492.56,191.99 506.62,206.41 520.69,220.74 534.76,234.97 548.82,249.11"/>
<polyline points="434.23,106.18 448.30,121.02 462.37,135.77 476.43,150.45 490.50,165.05 504.57,179.56 518.63,194.00 532.70,208.36 546.77,222.63 560.83,236.83"/>
<polyline points="446.24,93.88 460.31,108.66 474.38,123.38 488.44,138.03 502.51,152.62 516.58,167.14 530.64,181.59 544.71,195.98 558.78,210.30 572.84,224.55"/>
<polyline points="458.26,81.57 472.32,96.30 486.39,110.98 500.46,125.61 514.52,140.19 528.59,154.71 542.66,169.18 556.72,183.60 570.79,197.96 584.86,212.27"/>
<polyline points="470.27,69.26 484.33,83.95 498.40,98.59 512.47,113.20 526.53,127.76 540.60,142.29 554.67,156.77 568.73,171.22 582.80,185.62 596.87,199.99"/>
<polyline points="482.28,56.96 496.34,71.59 510.41,86.20 524.48,100.78 538.54,115.33 552.61,129.86 566.68,144.36 580.74,158.84 594.81,173.28 608.88,187.71"/>
<polyline points="494.29,44.65 508.36,59.23 522.42,73.80 536.49,88.36 550.56,102.90 564.62,117.43 578.69,131.95 592.76,146.46 606.82,160.95 620.89,175.42"/>
<polyline points="506.30,32.34 520.37,46.88 534.43,61.41 548.50,75.94 562.57,90.48 576.63,105.01 590.70,119.54 604.77,134.08 618.83,148.61 632.90,163.14"/>
</g>
<g font-family="'Liberation Sans', Arial, sans-serif" font-size="13.5" fill="#262626" stroke="#262626" stroke-width="0.25">
<text x="393.80" y="233.60" text-anchor="end">0</text>
<text x="418.82" y="253.34" text-anchor="end">0.01</text>
<text x="444.94" y="272.98" text-anchor="end">0.02</text>
<text x="469.76" y="292.92" text-anchor="end">0.03</text>
<text x="495.08" y="312.86" text-anchor="end">0.04</text>
<text x="520.90" y="332.60" text-anchor="end">0.05</text>
<text x="529.80" y="332.40">0</text>
<text x="583.85" y="272.80">0.05</text>
<text x="637.90" y="215.80">0.1</text>
<text x="393.40" y="217.70" text-anchor="end">0.8</text>
<text x="393.40" y="180.50" text-anchor="end">0.9</text>
<text x="393.40" y="143.30" text-anchor="end">1</text>
</g>
<defs><linearGradient id="gb" x1="0" y1="0" x2="0" y2="1"><stop offset="0.00000" stop-color="#800000"/><stop offset="0.01562" stop-color="#800000"/><stop offset="0.01562" stop-color="#8f0000"/><stop offset="0.03125" stop-color="#8f0000"/><stop offset="0.03125" stop-color="#9f0000"/><stop offset="0.04688" stop-color="#9f0000"/><stop offset="0.04688" stop-color="#af0000"/><stop offset="0.06250" stop-color="#af0000"/><stop offset="0.06250" stop-color="#bf0000"/><stop offset="0.07812" stop-color="#bf0000"/><stop offset="0.07812" stop-color="#cf0000"/><stop offset="0.09375" stop-color="#cf0000"/><stop offset="0.09375" stop-color="#df0000"/><stop offset="0.10938" stop-color="#df0000"/><stop offset="0.10938" stop-color="#ef0000"/><stop offset="0.12500" stop-color="#ef0000"/><stop offset="0.12500" stop-color="#ff0000"/><stop offset="0.14062" stop-color="#ff0000"/><stop offset="0.14062" stop-color="#ff1000"/><stop offset="0.15625" stop-color="#ff1000"/><stop offset="0.15625" stop-color="#ff2000"/><stop offset="0.17188" stop-color="#ff2000"/><stop offset="0.17188" stop-color="#ff3000"/><stop offset="0.18750" stop-color="#ff3000"/><stop offset="0.18750" stop-color="#ff4000"/><stop offset="0.20312" stop-color="#ff4000"/><stop offset="0.20312" stop-color="#ff5000"/><stop offset="0.21875" stop-color="#ff5000"/><stop offset="0.21875" stop-color="#ff6000"/><stop offset="0.23438" stop-color="#ff6000"/><stop offset="0.23438" stop-color="#ff7000"/><stop offset="0.25000" stop-color="#ff7000"/><stop offset="0.25000" stop-color="#ff8000"/><stop offset="0.26562" stop-color="#ff8000"/><stop offset="0.26562" stop-color="#ff8f00"/><stop offset="0.28125" stop-color="#ff8f00"/><stop offset="0.28125" stop-color="#ff9f00"/><stop offset="0.29688" stop-color="#ff9f00"/><stop offset="0.29688" stop-color="#ffaf00"/><stop offset="0.31250" stop-color="#ffaf00"/><stop offset="0.31250" stop-color="#ffbf00"/><stop offset="0.32812" stop-color="#ffbf00"/><stop offset="0.32812" stop-color="#ffcf00"/><stop offset="0.34375" stop-color="#ffcf00"/><stop offset="0.34375" stop-color="#ffdf00"/><stop offset="0.35938" stop-color="#ffdf00"/><stop offset="0.35938" stop-color="#ffef00"/><stop offset="0.37500" stop-color="#ffef00"/><stop offset="0.37500" stop-color="#ffff00"/><stop offset="0.39062" stop-color="#ffff00"/><stop offset="0.39062" stop-color="#efff10"/><stop offset="0.40625" stop-color="#efff10"/><stop offset="0.40625" stop-color="#dfff20"/><stop offset="0.42188" stop-color="#dfff20"/><stop offset="0.42188" stop-color="#cfff30"/><stop offset="0.43750" stop-color="#cfff30"/><stop offset="0.43750" stop-color="#bfff40"/><stop offset="0.45312" stop-color="#bfff40"/><stop offset="0.45312" stop-color="#afff50"/><stop offset="0.46875" stop-color="#afff50"/><stop offset="0.46875" stop-color="#9fff60"/><stop offset="0.48438" stop-color="#9fff60"/><stop offset="0.48438" stop-color="#8fff70"/><stop offset="0.50000" stop-color="#8fff70"/><stop offset="0.50000" stop-color="#80ff80"/><stop offset="0.51562" stop-color="#80ff80"/><stop offset="0.51562" stop-color="#70ff8f"/><stop offset="0.53125" stop-color="#70ff8f"/><stop offset="0.53125" stop-color="#60ff9f"/><stop offset="0.54688" stop-color="#60ff9f"/><stop offset="0.54688" stop-color="#50ffaf"/><stop offset="0.56250" stop-color="#50ffaf"/><stop offset="0.56250" stop-color="#40ffbf"/><stop offset="0.57812" stop-color="#40ffbf"/><stop offset="0.57812" stop-color="#30ffcf"/><stop offset="0.59375" stop-color="#30ffcf"/><stop offset="0.59375" stop-color="#20ffdf"/><stop offset="0.60938" stop-color="#20ffdf"/><stop offset="0.60938" stop-color="#10ffef"/><stop offset="0.62500" stop-color="#10ffef"/><stop offset="0.62500" stop-color="#00ffff"/><stop offset="0.64062" stop-color="#00ffff"/><stop offset="0.64062" stop-color="#00efff"/><stop offset="0.65625" stop-color="#00efff"/><stop offset="0.65625" stop-color="#00dfff"/><stop offset="0.67188" stop-color="#00dfff"/><stop offset="0.67188" stop-color="#00cfff"/><stop offset="0.68750" stop-color="#00cfff"/><stop offset="0.68750" stop-color="#00bfff"/><stop offset="0.70312" stop-color="#00bfff"/><stop offset="0.70312" stop-color="#00afff"/><stop offset="0.71875" stop-color="#00afff"/><stop offset="0.71875" stop-color="#009fff"/><stop offset="0.73438" stop-color="#009fff"/><stop offset="0.73438" stop-color="#008fff"/><stop offset="0.75000" stop-color="#008fff"/><stop offset="0.75000" stop-color="#0080ff"/><stop offset="0.76562" stop-color="#0080ff"/><stop offset="0.76562" stop-color="#0070ff"/><stop offset="0.78125" stop-color="#0070ff"/><stop offset="0.78125" stop-color="#0060ff"/><stop offset="0.79688" stop-color="#0060ff"/><stop offset="0.79688" stop-color="#0050ff"/><stop offset="0.81250" stop-color="#0050ff"/><stop offset="0.81250" stop-color="#0040ff"/><stop offset="0.82812" stop-color="#0040ff"/><stop offset="0.82812" stop-color="#0030ff"/><stop offset="0.84375" stop-color="#0030ff"/><stop offset="0.84375" stop-color="#0020ff"/><stop offset="0.85938" stop-color="#0020ff"/><stop offset="0.85938" stop-color="#0010ff"/><stop offset="0.87500" stop-color="#0010ff"/><stop offset="0.87500" stop-color="#0000ff"/><stop offset="0.89062" stop-color="#0000ff"/><stop offset="0.89062" stop-color="#0000ef"/><stop offset="0.90625" stop-color="#0000ef"/><stop offset="0.90625" stop-color="#0000df"/><stop offset="0.92188" stop-color="#0000df"/><stop offset="0.92188" stop-color="#0000cf"/><stop offset="0.93750" stop-color="#0000cf"/><stop offset="0.93750" stop-color="#0000bf"/><stop offset="0.95312" stop-color="#0000bf"/><stop offset="0.95312" stop-color="#0000af"/><stop offset="0.96875" stop-color="#0000af"/><stop offset="0.96875" stop-color="#00009f"/><stop offset="0.98438" stop-color="#00009f"/><stop offset="0.98438" stop-color="#00008f"/><stop offset="1.00000" stop-color="#00008f"/></linearGradient></defs>
<rect x="643.80" y="24.00" width="13.20" height="291.10" fill="url(#gb)"/>
<rect x="643.80" y="24.00" width="13.20" height="291.10" fill="none" stroke="#000" stroke-width="0.4" stroke-opacity="0.25"/>
<g font-family="'Liberation Sans', Arial, sans-serif" font-size="13.5" fill="#262626" stroke="#262626" stroke-width="0.25">
<text x="658.60" y="310.89">0.9</text>
<text x="658.60" y="281.58">0.91</text>
<text x="658.60" y="252.26">0.92</text>
<text x="658.60" y="222.95">0.93</text>
<text x="658.60" y="193.63">0.94</text>
<text x="658.60" y="164.32">0.95</text>
<text x="658.60" y="135.00">0.96</text>
<text x="658.60" y="105.69">0.97</text>
<text x="658.60" y="76.37">0.98</text>
<text x="658.60" y="47.05">0.99</text>
</g>
<g stroke="#111" stroke-width="0.6" stroke-opacity="0.8">
<line x1="643.80" y1="306.89" x2="646.20" y2="306.89"/>
<line x1="654.60" y1="306.89" x2="657.00" y2="306.89"/>
<line x1="643.80" y1="277.58" x2="646.20" y2="277.58"/>
<line x1="654.60" y1="277.58" x2="657.00" y2="277.58"/>
<line x1="643.80" y1="248.26" x2="646.20" y2="248.26"/>
<line x1="654.60" y1="248.26" x2="657.00" y2="248.26"/>
<line x1="643.80" y1="218.95" x2="646.20" y2="218.95"/>
<line x1="654.60" y1="218.95" x2="657.00" y2="218.95"/>
<line x1="643.80" y1="189.63" x2="646.20" y2="189.63"/>
<line x1="654.60" y1="189.63" x2="657.00" y2="189.63"/>
<line x1="643.80" y1="160.32" x2="646.20" y2="160.32"/>
<line x1="654.60" y1="160.32" x2="657.00" y2="160.32"/>
<line x1="643.80" y1="131.00" x2="646.20" y2="131.00"/>
<line x1="654.60" y1="131.00" x2="657.00" y2="131.00"/>
<line x1="643.80" y1="101.69" x2="646.20" y2="101.69"/>
<line x1="654.60" y1="101.69" x2="657.00" y2="101.69"/>
<line x1="643.80" y1="72.37" x2="646.20" y2="72.37"/>
<line x1="654.60" y1="72.37" x2="657.00" y2="72.37"/>
<line x1="643.80" y1="43.05" x2="646.20" y2="43.05"/>
<line x1="654.60" y1="43.05" x2="657.00" y2="43.05"/>
</g>
<text x="155.7" y="13.6" text-anchor="middle" font-family="'Liberation Sans', Arial, sans-serif" font-size="16" fill="#262626">(a)</text>
<text x="515.6" y="13.6" text-anchor="middle" font-family="'Liberation Sans', Arial, sans-serif" font-size="16" fill="#262626">(b)</text>
<text transform="translate(13.6,173.4) rotate(-90)" text-anchor="middle" font-family="'Liberation Sans', Arial, sans-serif" font-size="16" fill="#262626">F</text>
<text transform="translate(360.8,178.0) rotate(-90)" text-anchor="middle" font-family="'Liberation Sans', Arial, sans-serif" font-size="16" fill="#262626">F<tspan font-size="13.2" dy="6.8">adi</tspan></text>
<text x="92.8" y="333.8" font-size="16" fill="#262626"><tspan font-family="'Liberation Serif', 'Times New Roman', serif" font-size="17">κ</tspan><tspan font-family="'Liberation Sans', Arial, sans-serif">/</tspan><tspan font-family="'Liberation Serif', 'Times New Roman', serif" font-size="17">λ</tspan></text>
<text x="455.6" y="335.2" font-size="16" fill="#262626"><tspan font-family="'Liberation Serif', 'Times New Roman', serif" font-size="17">κ</tspan><tspan font-family="'Liberation Sans', Arial, sans-serif">/</tspan><tspan font-family="'Liberation Serif', 'Times New Roman', serif" font-size="17">λ</tspan></text>
<text x="219.2" y="323.6" font-size="16" fill="#262626"><tspan font-family="'Liberation Serif', 'Times New Roman', serif" font-size="17">γ</tspan><tspan font-family="'Liberation Sans', Arial, sans-serif">/</tspan><tspan font-family="'Liberation Serif', 'Times New Roman', serif" font-size="17">λ</tspan></text>
<text x="585.9" y="322.6" font-size="16" fill="#262626"><tspan font-family="'Liberation Serif', 'Times New Roman', serif" font-size="17">γ</tspan><tspan font-family="'Liberation Sans', Arial, sans-serif">/</tspan><tspan font-family="'Liberation Serif', 'Times New Roman', serif" font-size="17">λ</tspan></text>
</svg>
</body></html>
